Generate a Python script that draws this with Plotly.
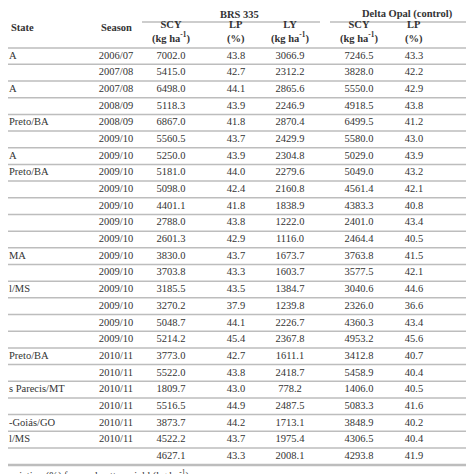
import plotly.graph_objects as go

states = ["A", "", "A", "", "Preto/BA", "", "A", "Preto/BA", "", "", "", "",
          "MA", "", "l/MS", "", "", "", "Preto/BA", "", "s Parecis/MT", "", "-Goiás/GO", "l/MS", ""]
seasons = ["2006/07", "2007/08", "2007/08", "2008/09", "2008/09", "2009/10", "2009/10", "2009/10",
           "2009/10", "2009/10", "2009/10", "2009/10", "2009/10", "2009/10", "2009/10", "2009/10",
           "2009/10", "2009/10", "2010/11", "2010/11", "2010/11", "2010/11", "2010/11", "2010/11", ""]
brs_scy = ["7002.0", "5415.0", "6498.0", "5118.3", "6867.0", "5560.5", "5250.0", "5181.0", "5098.0",
           "4401.1", "2788.0", "2601.3", "3830.0", "3703.8", "3185.5", "3270.2", "5048.7", "5214.2",
           "3773.0", "5522.0", "1809.7", "5516.5", "3873.7", "4522.2", "4627.1"]
brs_lp = ["43.8", "42.7", "44.1", "43.9", "41.8", "43.7", "43.9", "44.0", "42.4", "41.8", "43.8", "42.9",
          "43.7", "43.3", "43.5", "37.9", "44.1", "45.4", "42.7", "43.8", "43.0", "44.9", "44.2", "43.7", "43.3"]
brs_ly = ["3066.9", "2312.2", "2865.6", "2246.9", "2870.4", "2429.9", "2304.8", "2279.6", "2160.8",
          "1838.9", "1222.0", "1116.0", "1673.7", "1603.7", "1384.7", "1239.8", "2226.7", "2367.8",
          "1611.1", "2418.7", "778.2", "2487.5", "1713.1", "1975.4", "2008.1"]
do_scy = ["7246.5", "3828.0", "5550.0", "4918.5", "6499.5", "5580.0", "5029.0", "5049.0", "4561.4",
          "4383.3", "2401.0", "2464.4", "3763.8", "3577.5", "3040.6", "2326.0", "4360.3", "4953.2",
          "3412.8", "5458.9", "1406.0", "5083.3", "3848.9", "4306.5", "4293.8"]
do_lp = ["43.3", "42.2", "42.9", "43.8", "41.2", "43.0", "43.9", "43.2", "42.1", "40.8", "43.4", "40.5",
         "41.5", "42.1", "44.6", "36.6", "43.4", "45.6", "40.7", "40.4", "40.5", "41.6", "40.2", "40.4", "41.9"]
do_ly = ["31", "16", "23", "21", "26", "23", "22", "21", "19", "17", "10", "99",
         "15", "15", "13", "85", "18", "22", "13", "22", "56", "21", "15", "17", "18"]

FONT = "Liberation Serif"
n = len(seasons)
row_y = [48 + i * 16.68 for i in range(n)]

fig = go.Figure()
def col(x, vals, anchor="middle center"):
    fig.add_trace(go.Scatter(x=[x] * len(vals), y=row_y[:len(vals)], mode="text",
                             text=vals, textposition=anchor, hoverinfo="skip",
                             textfont=dict(family=FONT, size=10.5, color="#333")))

col(1, states, "middle right")
col(108, seasons)
col(163, brs_scy)
col(228, brs_lp)
col(282, brs_ly)
col(351, do_scy)
col(406, do_lp)
col(467, do_ly, "middle right")

hdr = [(1, 19, "State", "left"), (108, 19, "Season", "center"),
       (163, 24, "SCY<br>(kg ha<sup>-1</sup>)", "center"), (228, 24, "LP<br>(%)", "center"),
       (282, 24, "LY<br>(kg ha<sup>-1</sup>)", "center"),
       (351, 24, "SCY<br>(kg ha<sup>-1</sup>)", "center"), (406, 24, "LP<br>(%)", "center"),
       (464, 24, "L<br>(kg", "left"),
       (210, 6, "BRS 335", "left"), (352, 6, "Delta Opal (control)", "left")]
for x, y, t, xa in hdr:
    fig.add_annotation(x=x, y=y, text=f"<b>{t}</b>", showarrow=False, xanchor=xa, yanchor="middle",
                       font=dict(family=FONT, size=10.5, color="#333"))
fig.add_annotation(x=1, y=467, text="ariation (%) for seed cotton yield (kg ha<sup>-1</sup>)", showarrow=False,
                   xanchor="left", yanchor="middle", font=dict(family=FONT, size=10.5, color="#333"))

shapes = [dict(type="line", x0=134, x1=312, y0=14, y1=14), dict(type="line", x0=322, x1=480, y0=14, y1=14),
          dict(type="line", x0=-5, x1=480, y0=40, y1=40)]
for i in range(n - 1):
    yy = (row_y[i] + row_y[i + 1]) / 2
    shapes.append(dict(type="line", x0=-5, x1=480, y0=yy, y1=yy))
shapes.append(dict(type="line", x0=-5, x1=480, y0=457, y1=457, line=dict(width=2.5)))
for s in shapes:
    s.setdefault("line", dict(width=1.5))
    s["line"]["color"] = "#bdbdbd"
    s["xref"] = "x"; s["yref"] = "y"
fig.update_layout(shapes=shapes, width=474, height=474, margin=dict(l=0, r=0, t=0, b=0),
                  plot_bgcolor="white", paper_bgcolor="white", showlegend=False,
                  xaxis=dict(range=[0, 474], visible=False),
                  yaxis=dict(range=[474, 0], visible=False))
fig.write_html("out.html")
